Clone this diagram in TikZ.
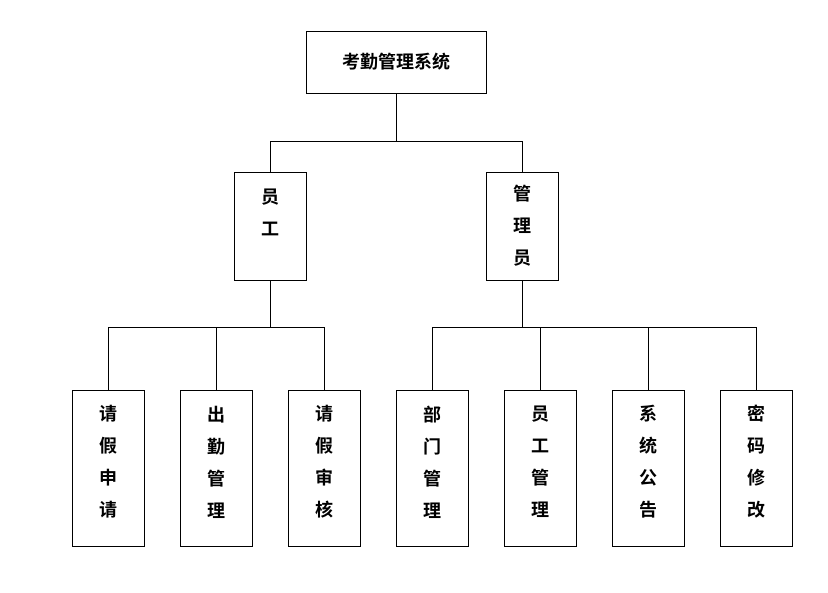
\documentclass[tikz,border=0pt]{standalone}
\usepackage{fontspec}
\newfontfamily\cjk{Noto Sans CJK SC}[BoldFont={Noto Sans CJK SC Bold}]
\begin{document}
\begin{tikzpicture}[x=1pt,y=-1pt,
  box/.style={draw,line width=0.8pt,inner sep=0pt,font=\cjk\bfseries\fontsize{18}{32}\selectfont,align=center},
  txt/.style={inner sep=0pt,font=\cjk\bfseries\fontsize{18}{32}\selectfont,align=center},
  ln/.style={line width=0.8pt}]
\useasboundingbox (0,0) rectangle (828,593);
\node[box,minimum width=180,minimum height=62] (root) at (396,62) {考勤管理系统};
\node[box,minimum width=72,minimum height=108] (yg) at (270,226) {};
\node[txt] (ygt) at (270,212) {员\\工};
\node[box,minimum width=72,minimum height=108] (gly) at (522,226) {管\\理\\员};
\foreach \n/\x/\t in {a/108/请\\假\\申\\请, b/216/出\\勤\\管\\理, c/324/请\\假\\审\\核, d/432/部\\门\\管\\理, e/540/员\\工\\管\\理, f/648/系\\统\\公\\告, g/756/密\\码\\修\\改}{
  \node[box,minimum width=72,minimum height=156] (\n) at (\x,468) {};
  \node[txt] (\n t) at (\x,462) {\t};}
\draw[ln] (root.south) -- ++(0,48) -| (yg.north);
\draw[ln] (root.south) ++(0,48) -| (gly.north);
\foreach \n in {a,b,c} \draw[ln] (yg.south) -- ++(0,47) -| (\n.north);
\foreach \n in {d,e,f,g} \draw[ln] (gly.south) -- ++(0,47) -| (\n.north);
\end{tikzpicture}
\end{document}
